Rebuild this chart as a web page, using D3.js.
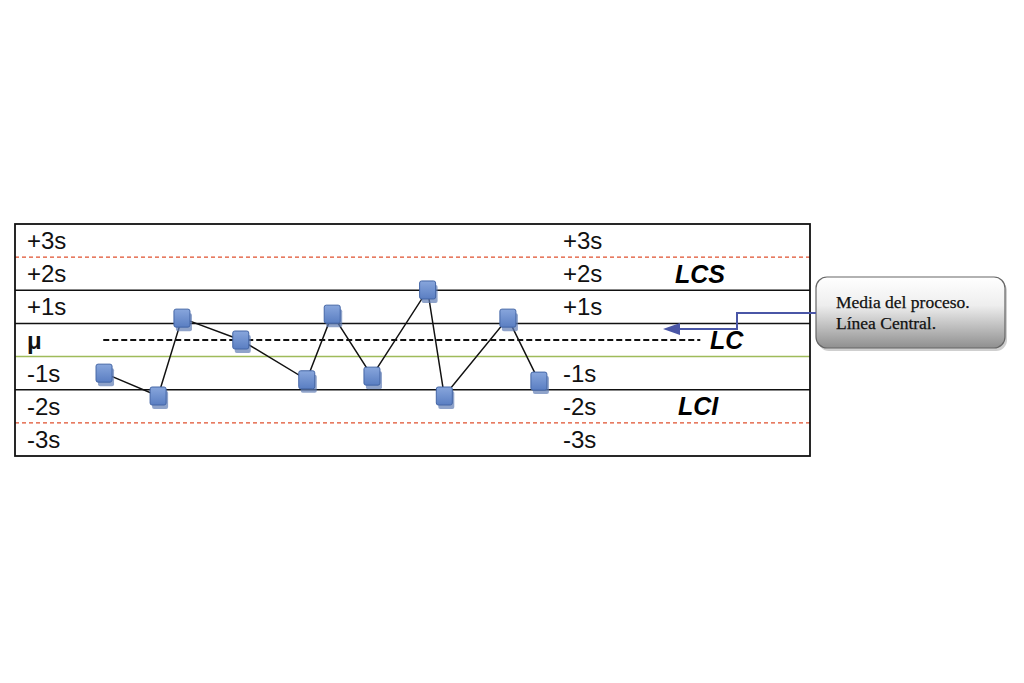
<!DOCTYPE html>
<html>
<head>
<meta charset="utf-8">
<script src="https://cdn.jsdelivr.net/npm/d3@7"></script>
<style>
  body { margin: 0; background: #ffffff; }
  svg { display: block; }
</style>
</head>
<body>
<div id="chart"></div>
<script>
// zone labels, one per sigma band
var bandLabels = ["+3s", "+2s", "+1s", "\u03bc", "-1s", "-2s", "-3s"];
var bandValues = [3, 2, 1, 0, -1, -2, -3];
var rightLabels = ["+3s", "+2s", "+1s", "", "-1s", "-2s", "-3s"];

// band boundaries (in sigma units) and their kind
var boundaryValues = [2.5, 1.5, 0.5, -0.5, -1.5, -2.5];
var boundaryKinds = ["red", "black", "black", "green", "black", "red"];

// control limits
var limitNames = ["LCS", "LC", "LCI"];
var limitValues = [2, 0, -2];

// samples: position along the run and value in sigma units
var sampleX = [11.2, 18.0, 21.0, 28.4, 36.7, 39.9, 44.9, 51.9, 54.0, 62.0, 65.9];
var sampleY = [-1.0, -1.69, 0.66, 0.0, -1.2, 0.78, -1.09, 1.51, -1.69, 0.66, -1.24];

// central line extent (same units as sampleX)
var centerFrom = 11.1, centerTo = 86.2;

var calloutLines = ["Media del proceso.", "L\u00ednea Central."];

var W = 1024, H = 683;
var box = {left: 15, right: 810, top: 224, bottom: 456};

var svg = d3.select("#chart").append("svg")
  .attr("width", W).attr("height", H);

var defs = svg.append("defs");
var grad = defs.append("linearGradient").attr("id", "calloutGrad")
  .attr("x1", 0).attr("y1", 0).attr("x2", 0).attr("y2", 1);
grad.append("stop").attr("offset", "0%").attr("stop-color", "#ffffff");
grad.append("stop").attr("offset", "40%").attr("stop-color", "#eeeeee");
grad.append("stop").attr("offset", "100%").attr("stop-color", "#8f8f8f");

var mGrad = defs.append("linearGradient").attr("id", "markGrad")
  .attr("x1", 0).attr("y1", 0).attr("x2", 0).attr("y2", 1);
mGrad.append("stop").attr("offset", "0%").attr("stop-color", "#88a6dc");
mGrad.append("stop").attr("offset", "100%").attr("stop-color", "#5a7ec2");

var x = d3.scaleLinear().domain([0, 100]).range([box.left, box.right]);
var y = d3.scaleLinear().domain([-3.5, 3.5]).range([box.bottom, box.top]);

// band boundaries
var kindStyle = {
  red: {stroke: "#e0502e", width: 1.3, dash: "4,3"},
  black: {stroke: "#111111", width: 1.6, dash: null},
  green: {stroke: "#9fbb5a", width: 1.5, dash: null}
};
svg.append("g").selectAll("line")
  .data(boundaryValues)
  .join("line")
    .attr("x1", box.left).attr("x2", box.right)
    .attr("y1", function(d) { return y(d); })
    .attr("y2", function(d) { return y(d); })
    .attr("stroke", function(d, i) { return kindStyle[boundaryKinds[i]].stroke; })
    .attr("stroke-width", function(d, i) { return kindStyle[boundaryKinds[i]].width; })
    .attr("stroke-dasharray", function(d, i) { return kindStyle[boundaryKinds[i]].dash; });

// outer frame
svg.append("rect")
  .attr("x", x(0)).attr("y", y(3.5))
  .attr("width", x(100) - x(0)).attr("height", y(-3.5) - y(3.5))
  .attr("fill", "none").attr("stroke", "#111111").attr("stroke-width", 1.8);

// band labels, left and right
svg.append("g").selectAll("text")
  .data(bandLabels)
  .join("text")
    .attr("x", 27)
    .attr("y", function(d, i) { return y(bandValues[i]) + 8.5; })
    .attr("font-family", "Liberation Sans, Arial, sans-serif")
    .attr("font-size", 24)
    .attr("font-weight", function(d, i) { return bandValues[i] === 0 ? "bold" : "normal"; })
    .attr("fill", "#111")
    .text(function(d) { return d; });

svg.append("g").selectAll("text")
  .data(rightLabels)
  .join("text")
    .attr("x", 563)
    .attr("y", function(d, i) { return y(bandValues[i]) + 8.5; })
    .attr("font-family", "Liberation Sans, Arial, sans-serif")
    .attr("font-size", 24)
    .attr("fill", "#111")
    .text(function(d) { return d; });

// central line (dashed)
svg.append("line")
  .attr("x1", x(centerFrom)).attr("x2", x(centerTo))
  .attr("y1", y(0)).attr("y2", y(0))
  .attr("stroke", "#111").attr("stroke-width", 2.2)
  .attr("stroke-dasharray", "6,3");

// limit names
var limitX = [675, 710, 678];
svg.append("g").selectAll("text")
  .data(limitNames)
  .join("text")
    .attr("x", function(d, i) { return limitX[i]; })
    .attr("y", function(d, i) { return y(limitValues[i]) + 9; })
    .attr("font-family", "Liberation Sans, Arial, sans-serif")
    .attr("font-size", 25)
    .attr("font-weight", "bold")
    .attr("font-style", "italic")
    .attr("fill", "#000")
    .text(function(d) { return d; });

// connecting line
var pts = sampleX.map(function(v, i) { return [x(v), y(sampleY[i])]; });
svg.append("path")
  .attr("d", d3.line()(pts))
  .attr("fill", "none")
  .attr("stroke", "#111")
  .attr("stroke-width", 1.5);

// markers with soft shadow
var mw = 16, mh = 18;
var marks = svg.append("g").selectAll("g")
  .data(pts)
  .join("g")
    .attr("transform", function(d) { return "translate(" + d[0] + "," + d[1] + ")"; });
marks.append("rect")
  .attr("x", -mw / 2 + 2).attr("y", -mh / 2 + 4)
  .attr("width", mw).attr("height", mh).attr("rx", 2)
  .attr("fill", "#5f7cb3").attr("opacity", 0.7);
marks.append("rect")
  .attr("x", -mw / 2).attr("y", -mh / 2)
  .attr("width", mw).attr("height", mh).attr("rx", 2)
  .attr("fill", "url(#markGrad)")
  .attr("stroke", "#4466a6").attr("stroke-width", 1);

// callout box
var cb = {x: 816, y: 277, w: 189, h: 71};
svg.append("rect")
  .attr("x", cb.x + 2).attr("y", cb.y + 3)
  .attr("width", cb.w).attr("height", cb.h).attr("rx", 11)
  .attr("fill", "#cfcfcf");
svg.append("rect")
  .attr("x", cb.x).attr("y", cb.y)
  .attr("width", cb.w).attr("height", cb.h).attr("rx", 11)
  .attr("fill", "url(#calloutGrad)")
  .attr("stroke", "#666").attr("stroke-width", 1.2);
svg.append("g").selectAll("text")
  .data(calloutLines)
  .join("text")
    .attr("x", cb.x + 20)
    .attr("y", function(d, i) { return cb.y + 30.5 + i * 21; })
    .attr("font-family", "Liberation Serif, Times New Roman, serif")
    .attr("font-size", 17.5)
    .attr("fill", "#111")
    .attr("stroke", "#111").attr("stroke-width", 0.25)
    .text(function(d) { return d; });

// connector arrow from callout to the central line
var arrowY = y(0) - 11;
svg.append("path")
  .attr("d", d3.line()([[cb.x, 313], [737, 313], [737, arrowY], [676, arrowY]]))
  .attr("fill", "none")
  .attr("stroke", "#4a56a6")
  .attr("stroke-width", 2);
svg.append("path")
  .attr("d", "M663," + arrowY + "L680," + (arrowY - 6) + "L680," + (arrowY + 6) + "Z")
  .attr("fill", "#4a56a6");
</script>
</body>
</html>
